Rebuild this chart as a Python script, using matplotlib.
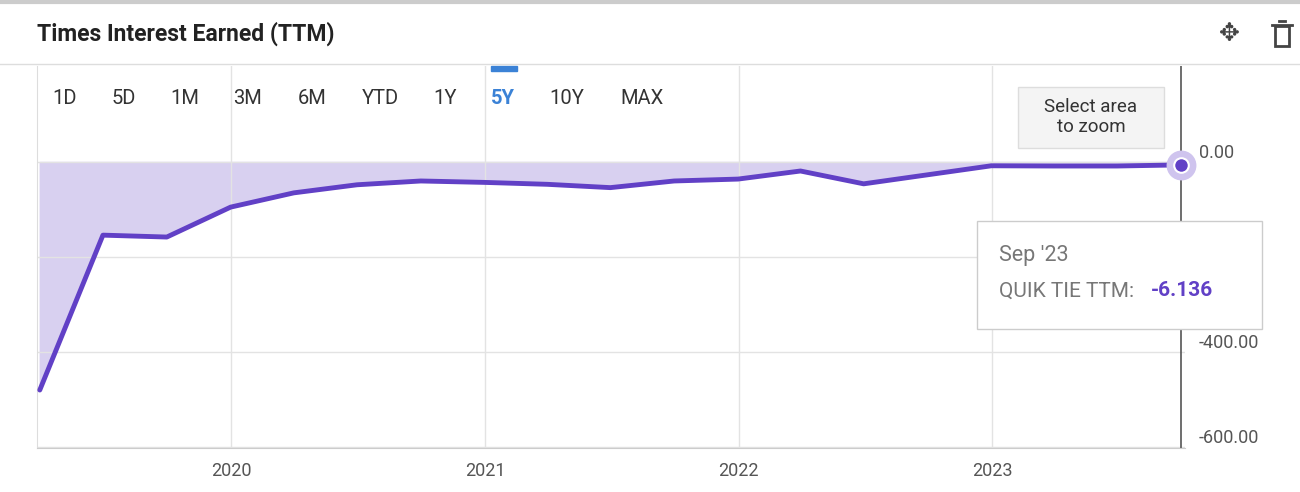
import datetime
import matplotlib
matplotlib.use("Agg")
import matplotlib.pyplot as plt
import matplotlib.dates as mdates
from matplotlib.ticker import FixedLocator
import matplotlib.patches as mpatches

plt.rcParams['font.family'] = ['Roboto', 'DejaVu Sans']

dates = ["2019-03-31", "2019-06-30", "2019-09-30", "2019-12-31", "2020-03-31",
         "2020-06-30", "2020-09-30", "2020-12-31", "2021-03-31", "2021-06-30",
         "2021-09-30", "2021-12-31", "2022-03-31", "2022-06-30", "2022-09-30",
         "2022-12-31", "2023-03-31", "2023-06-30", "2023-09-30"]
tie = [-480, -154, -158, -95, -65, -48, -40, -43, -47, -54, -40, -36, -19,
       -46, -27, -8, -8.5, -8.5, -6.136]
ranges = ["1D", "5D", "1M", "3M", "6M", "YTD", "1Y", "5Y", "10Y", "MAX"]
yticks = [0, -200, -400, -600]

xd = [datetime.datetime.strptime(d, "%Y-%m-%d") for d in dates]
purple = "#6140c6"

fig = plt.figure(figsize=(13, 4.92), dpi=100)
ax = fig.add_axes([37/1300, 1-448/492, (1185-37)/1300, (448-66)/492])

ax.fill_between(xd, tie, 0, color="#d8d0f0", zorder=1)
ax.plot(xd, tie, color=purple, lw=3.5, zorder=3, solid_capstyle="round")
ax.scatter([xd[-1]], [tie[-1]], s=420, color="#cfc4ee", zorder=4, clip_on=False)
ax.scatter([xd[-1]], [tie[-1]], s=110, color=purple, edgecolor="white", lw=1.5,
           zorder=5, clip_on=False)
ax.axvline(xd[-1], color="#555555", lw=1.2, zorder=2)

ax.set_xlim(datetime.datetime(2019, 3, 27), datetime.datetime(2023, 10, 6))
ax.set_ylim(-602, 202)
ax.xaxis.set_major_locator(mdates.YearLocator())
ax.xaxis.set_major_formatter(mdates.DateFormatter("%Y"))
ax.yaxis.set_major_locator(FixedLocator(yticks))
ax.yaxis.tick_right()
ax.set_yticklabels(["%.2f" % v for v in yticks])
for lb in ax.get_yticklabels():
    lb.set_va("bottom")
ax.grid(True, color="#e3e3e3", lw=1, zorder=0)
ax.tick_params(axis="both", length=0, labelsize=13, colors="#555555")
ax.tick_params(axis="y", pad=10)
ax.tick_params(axis="x", pad=10)
for s in ["top", "right"]:
    ax.spines[s].set_visible(False)
ax.spines["left"].set_color("#dddddd")
ax.spines["bottom"].set_color("#cccccc")

# header
fig.add_artist(plt.Line2D([0, 1], [1-2/492, 1-2/492], color="#cccccc", lw=3))
fig.add_artist(plt.Line2D([0, 1], [1-64/492, 1-64/492], color="#dddddd", lw=1))
fig.text(37/1300, 1-34/492, "Times Interest Earned (TTM)", fontsize=16.5,
         fontweight="bold", va="center", color="#222222")
fig.text(1230/1300, 1-34/492, "\u2725", fontsize=18, va="center", ha="center",
         color="#444444", family=["DejaVu Sans"])
# trash icon drawn as shapes
tc = "#444444"
fig.add_artist(plt.Line2D([1272/1300, 1292/1300], [1-25/492, 1-25/492], color=tc, lw=2))
fig.add_artist(plt.Line2D([1279/1300, 1285/1300], [1-21/492, 1-21/492], color=tc, lw=2))
fig.add_artist(mpatches.Rectangle((1275/1300, 1-46/492), 14/1300, 20/492, fill=False,
               edgecolor=tc, lw=2, transform=fig.transFigure))

# range buttons
xs = [65, 124, 185, 248, 312, 380, 445, 503, 567, 642]
for r, x in zip(ranges, xs):
    c = "#3b82d6" if r == "5Y" else "#333333"
    fig.text(x/1300, 1-98/492, r, fontsize=14.5, ha="center", va="center", color=c,
             fontweight="bold" if r == "5Y" else "normal")
fig.add_artist(mpatches.Rectangle((491/1300, 1-71/492), 26/1300, 5/492,
                                  color="#3b82d6", transform=fig.transFigure))

# zoom box
fig.add_artist(mpatches.Rectangle((1018/1300, 1-148/492), 146/1300, 61/492,
               facecolor="#f4f4f4", edgecolor="#dddddd", transform=fig.transFigure))
fig.text(1091/1300, 1-117/492, "Select area\nto zoom", fontsize=13.5, ha="center",
         va="center", color="#333333", linespacing=1.2)

# tooltip
fig.add_artist(mpatches.Rectangle((977/1300, 1-329/492), 285/1300, 108/492,
               facecolor="white", edgecolor="#cccccc", transform=fig.transFigure, zorder=10))
fig.text(999/1300, 1-256/492, "Sep '23", fontsize=15.5, color="#777777", va="center", zorder=11)
fig.text(999/1300, 1-291/492, "QUIK TIE TTM:", fontsize=15, color="#777777",
         va="center", zorder=11)
fig.text(1151/1300, 1-291/492, "-6.136", fontsize=15, color=purple, fontweight="bold",
         va="center", zorder=11)

fig.savefig("out.png", dpi=100)
